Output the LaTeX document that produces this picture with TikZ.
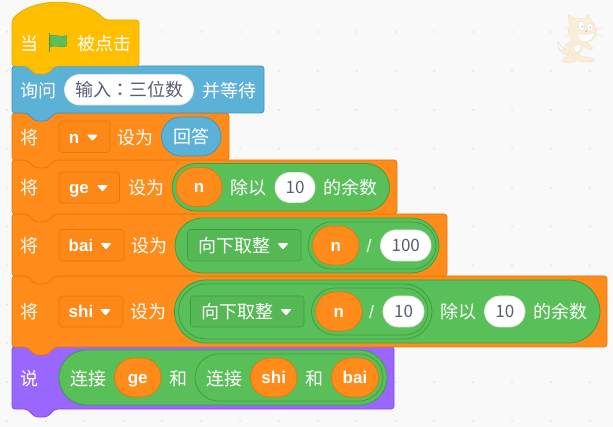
\documentclass[tikz,border=0pt]{standalone}
\usepackage{fontspec}
\setmainfont{Noto Sans CJK SC}
\newfontfamily\latfont{Liberation Sans}
\newfontfamily\tcfont{Noto Sans CJK TC}
\usetikzlibrary{shapes.misc}
\definecolor{bgc}{HTML}{F9F9F9}
\definecolor{dotc}{HTML}{E4E4E4}
\definecolor{orA}{HTML}{FF8C1A}
\definecolor{orB}{HTML}{E6780A}
\definecolor{orC}{HTML}{FC8818}
\definecolor{yeA}{HTML}{FFBF00}
\definecolor{yeB}{HTML}{E6AC00}
\definecolor{blA}{HTML}{5CB1D6}
\definecolor{blB}{HTML}{3F97BE}
\definecolor{puA}{HTML}{9966FF}
\definecolor{puB}{HTML}{804DE0}
\definecolor{grA}{HTML}{59C059}
\definecolor{grB}{HTML}{3F9F3F}
\definecolor{grC}{HTML}{55B855}
\definecolor{ink}{HTML}{575E75}
\definecolor{catA}{HTML}{FCEDD6}
\definecolor{catB}{HTML}{EFE6D8}
\tikzset{
  block/.style={line width=0.8pt,rounded corners=3pt},
  orangeblock/.style={block,fill=orA,draw=orB},
  blueblock/.style={block,fill=blA,draw=blB},
  purpleblock/.style={block,fill=puA,draw=puB},
  yellowblock/.style={block,fill=yeA,draw=yeB},
  pillbase/.style={shape=rounded rectangle,inner sep=0pt,outer sep=0pt,line width=0.8pt},
  greenpill/.style={pillbase,fill=grA,draw=grB},
  orangepill/.style={pillbase,fill=orA,draw=orB,text=white,text height=11.4pt,text depth=0pt,font=\latfont\fontsize{17}{17}\selectfont\bfseries},
  bluepill/.style={pillbase,fill=blA,draw=blB,text=white,text height=13.6pt,text depth=0pt,font=\fontsize{18}{18}\selectfont},
  whitepill/.style={pillbase,fill=white,draw=white!90!black,text=ink,text height=12.6pt,text depth=0pt,font=\fontsize{17}{18}\selectfont},
  orangemenu/.style={shape=rectangle,rounded corners=3pt,inner sep=0pt,fill=orC,draw=orB,line width=0.6pt},
  greenmenu/.style={shape=rectangle,rounded corners=3pt,inner sep=0pt,fill=grC,draw=grB,line width=0.6pt},
  lbl/.style={text=white,inner sep=0pt,text height=13.6pt,text depth=0pt,font=\fontsize{18}{18}\selectfont},
  varlbl/.style={text=white,inner sep=0pt,text height=11.4pt,text depth=0pt,font=\latfont\fontsize{17}{17}\selectfont\bfseries},
  slashlbl/.style={text=white!92!grA,inner sep=0pt,font=\latfont\fontsize{18}{18}\selectfont},
  catfill/.style={fill=catA,draw=catB,line width=0.6pt,line join=round},
  catwhite/.style={fill=white,draw=catB,line width=0.6pt,line join=round},
}
% x1 y1 x2 y2 style
\newcommand{\stackblock}[5]{%
  \path[#5] (#1,#2) -- (#3,#2) -- (#3,#4) -- ({#1+43},#4) -- ({#1+35},{#4+8}) -- ({#1+23},{#4+8}) -- ({#1+15},#4) -- (#1,#4) -- cycle;}
% name style x1 y1 x2 y2 text
\newcommand{\boxnode}[7]{%
  \node[#2,minimum width={(#5-#3)*1pt},minimum height={(#6-#4)*1pt}] (#1) at ({(#3+#5)/2},{(#4+#6)/2}) {#7};}
\newcommand{\menuarrow}[2]{%
  \fill[white,rounded corners=1pt] ({#1-5.5},{#2-2.8}) -- ({#1+5.5},{#2-2.8}) -- (#1,{#2+3.6}) -- cycle;}
\begin{document}
\begin{tikzpicture}[x=1pt,y=-1pt]
\useasboundingbox (0,0) rectangle (613,427);
\fill[bgc] (0,0) rectangle (613,427);
% background dots
\foreach \i in {0,...,15}{\foreach \j in {0,...,10}{
  \fill[dotc] ({7+38.85*\i},{32+38.9*\j}) circle (1);}}
% cat
\begin{scope}
  % tail
  \path[catfill] (571,50) .. controls (566,50) and (561,47) .. (558,42) .. controls (556,48) and (561,55) .. (570,55) -- cycle;
  \path[catwhite] (558,42) .. controls (557,46) and (559,49) .. (562,51) -- (564,48) .. controls (561,47) and (559,45) .. (558,42) -- cycle;
  % back leg
  \path[catfill] (571,49) .. controls (569,54) and (566,58) .. (562,60) .. controls (562,63) and (570,64) .. (576,61) -- (574,58) -- (578,53) -- cycle;
  % front leg
  \path[catfill] (576,50) .. controls (578,55) and (582,58) .. (587,57) .. controls (590,57) and (594,59) .. (595,61) .. controls (590,62) and (584,62) .. (580,61) .. controls (576,60) and (573,56) .. (572,53) -- cycle;
  % body
  \path[catfill] (571,41) .. controls (568,46) and (569,52) .. (573,54) .. controls (578,56) and (583,52) .. (584,41) -- cycle;
  \path[catwhite] (574,46) .. controls (573,50) and (575,53) .. (578,52) .. controls (581,51) and (581,47) .. (581,44) -- cycle;
  % arms
  \path[catfill] (584,41) .. controls (587,43) and (590,45) .. (593,48) -- (590,50) .. controls (587,48) and (584,46) .. (582,45) -- cycle;
  \path[catfill] (571,42) .. controls (569,43) and (567,44) .. (565,44) -- (566,47) .. controls (568,47) and (571,46) .. (573,45) -- cycle;
  % head
  \path[catfill] (570,25) -- (568,15) -- (576,19) .. controls (579,18) and (583,18) .. (585,19) -- (587.5,14.5) -- (592,22) .. controls (598,28) and (598,36) .. (592,40) .. controls (585,45) and (574,44) .. (570,37) .. controls (568,33) and (568,28) .. (570,25) -- cycle;
  \path[catwhite] (578,33) .. controls (582,35) and (589,35) .. (595,32) .. controls (595,37) and (590,42) .. (585,42) .. controls (580,42) and (577,38) .. (578,33) -- cycle;
  \path[catwhite] (581,21) .. controls (577,21) and (577,30) .. (582,31) .. controls (586,30) and (585,21) .. (581,21) -- cycle;
  \path[catwhite] (590,23) .. controls (586,23) and (586,31) .. (590,31) .. controls (594,31) and (594,24) .. (590,23) -- cycle;
  \fill[gray!55] (582.5,26.5) circle (0.9);
  \fill[gray!55] (590.5,27.5) circle (0.9);
  \fill[gray!50] (586,31.5) circle (1);
  \draw[catB,line width=0.6pt] (570,30) -- (565,28) (570,34) -- (565,36) (595,30) -- (602,28) (595,34) -- (602,36);
\end{scope}
% stack, lowest block first so that each tab lies over the next block
\stackblock{12}{346.5}{394}{409}{purpleblock}
\stackblock{12}{276}{607}{347}{orangeblock}
\stackblock{12}{214}{447}{276}{orangeblock}
\stackblock{12}{160}{397}{214}{orangeblock}
\stackblock{12}{113}{229}{160}{orangeblock}
\stackblock{12}{66}{264}{113}{blueblock}
\path[yellowblock] (12,20) .. controls (32,-3) and (84,-3) .. (105,20) -- (139,20) -- (139,66) -- (55,66) -- (47,74) -- (35,74) -- (27,66) -- (12,66) -- cycle;
% when flag clicked
\node[lbl] (whenA) at (29,44) {当};
\node[lbl] (whenB) at (104,44) {被点击};
\draw[draw=grB,line width=1.5pt] (49.5,33.5) -- (49.5,52.5);
\path[fill=grA,draw=grB!80!grA,line width=0.5pt] (50.5,35.5) .. controls (55,33.5) and (58,38) .. (66.5,35.5) -- (66.5,46) .. controls (59,48.5) and (55,44) .. (50.5,47) -- cycle;
% ask
\node[lbl] (askA) at (38,91) {询问};
\boxnode{askInput}{whitepill,text height=13.6pt,font=\fontsize{18}{18}\selectfont}{64.5}{74.5}{193.5}{105}{输入{\tcfont ：}三位数}
\node[lbl] (askB) at (229,91) {并等待};
% set n
\node[lbl] (setnA) at (29,138) {将};
\boxnode{setnMenu}{orangemenu}{59}{121}{110}{152.5}{}
\node[varlbl] (setnVar) at (74,138) {n};
\menuarrow{92.5}{137.5}
\node[lbl] (setnB) at (135,138) {设为};
\boxnode{setnAnswer}{bluepill}{161.5}{117}{221}{156}{回答}
% set ge
\node[lbl] (setgeA) at (29,188) {将};
\boxnode{setgeMenu}{orangemenu}{59}{172}{119.5}{203}{}
\node[varlbl] (setgeVar) at (79,188) {ge};
\menuarrow{102.5}{188}
\node[lbl] (setgeB) at (146,188) {设为};
\boxnode{setgePill}{greenpill}{172}{163.5}{389.5}{211}{}
\boxnode{setgeN}{orangepill}{176}{167.5}{222}{206.5}{n}
\node[lbl] (setgeC) at (248.5,188) {除以};
\boxnode{setgeTen}{whitepill}{275}{172.5}{315}{202.5}{10}
\node[lbl] (setgeD) at (350.5,188) {的余数};
% set bai
\node[lbl] (setbaiA) at (29,246) {将};
\boxnode{setbaiMenu}{orangemenu}{59}{229.5}{124}{261}{}
\node[varlbl] (setbaiVar) at (81,246) {bai};
\menuarrow{106}{246}
\node[lbl] (setbaiB) at (149,246) {设为};
\boxnode{setbaiPill}{greenpill}{175}{218}{439}{273}{}
\boxnode{setbaiFloor}{greenmenu}{187.5}{229.5}{301}{261}{}
\node[lbl] (setbaiFloorT) at (234.5,246) {向下取整};
\menuarrow{283}{246}
\boxnode{setbaiDiv}{greenpill}{308}{222}{436}{269}{}
\boxnode{setbaiN}{orangepill}{312.5}{226}{359}{265}{n}
\node[slashlbl] (setbaiS) at (369,246) {/};
\boxnode{setbaiHun}{whitepill}{380.5}{230}{431}{261}{100}
% set shi
\node[lbl] (setshiA) at (29,312) {将};
\boxnode{setshiMenu}{orangemenu}{59}{296}{123}{327}{}
\node[varlbl] (setshiVar) at (81,312) {shi};
\menuarrow{105.5}{312}
\node[lbl] (setshiB) at (148.5,312) {设为};
\boxnode{setshiPill}{greenpill}{174.5}{280}{600}{343}{}
\boxnode{setshiFl}{greenpill}{178.5}{284}{432}{339}{}
\boxnode{setshiFloor}{greenmenu}{190.5}{296}{304}{327}{}
\node[lbl] (setshiFloorT) at (237,312) {向下取整};
\menuarrow{286}{312}
\boxnode{setshiDiv}{greenpill}{311.5}{288}{428}{335}{}
\boxnode{setshiN}{orangepill}{315.5}{292}{362}{331}{n}
\node[slashlbl] (setshiS) at (371.5,312) {/};
\boxnode{setshiTenA}{whitepill}{383}{296}{424}{327}{10}
\node[lbl] (setshiC) at (458,312) {除以};
\boxnode{setshiTenB}{whitepill}{484.5}{296}{525}{327}{10}
\node[lbl] (setshiD) at (560,312) {的余数};
% say
\node[lbl] (sayA) at (29,379) {说};
\boxnode{sayPill}{greenpill}{59}{350}{387}{405}{}
\node[lbl] (sayB) at (88.5,379) {连接};
\boxnode{sayGe}{orangepill}{114.5}{358}{161}{397}{ge}
\node[lbl] (sayC) at (178,379) {和};
\boxnode{sayInner}{greenpill}{195}{354}{383}{401}{}
\node[lbl] (sayD) at (224.5,379) {连接};
\boxnode{sayShi}{orangepill}{250.5}{358}{297}{397}{shi}
\node[lbl] (sayE) at (314,379) {和};
\boxnode{sayBai}{orangepill}{331.5}{358}{378.5}{397}{bai}
\end{tikzpicture}
\end{document}
